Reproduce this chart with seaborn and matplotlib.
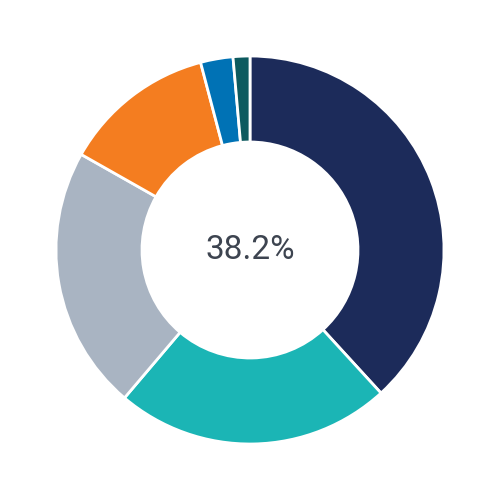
import matplotlib
matplotlib.use("Agg")
import matplotlib.pyplot as plt
import seaborn as sns

sns.set_theme(style="white")
plt.rcParams['font.family'] = ['Roboto', 'DejaVu Sans']

labels = ["A", "B", "C", "D", "E", "F"]
values = [38.2, 23.0, 22.0, 12.7, 2.7, 1.4]
colors = ["#1c2b5a", "#1bb5b5", "#a9b4c2", "#f47d20", "#0072b5", "#0d5a5f"]
center_text = "38.2%"

fig, ax = plt.subplots(figsize=(5, 5), dpi=100)
fig.subplots_adjust(0, 0, 1, 1)
ax.pie(values, colors=colors, startangle=90, counterclock=False,
       radius=0.97, wedgeprops=dict(width=0.43, edgecolor="white", linewidth=2))
ax.text(0, 0, center_text, ha="center", va="center", fontsize=24, color="#3d4450")
ax.set_xlim(-1.25, 1.25)
ax.set_ylim(-1.25, 1.25)
ax.set_aspect("equal")
ax.axis("off")
fig.savefig("out.png")
